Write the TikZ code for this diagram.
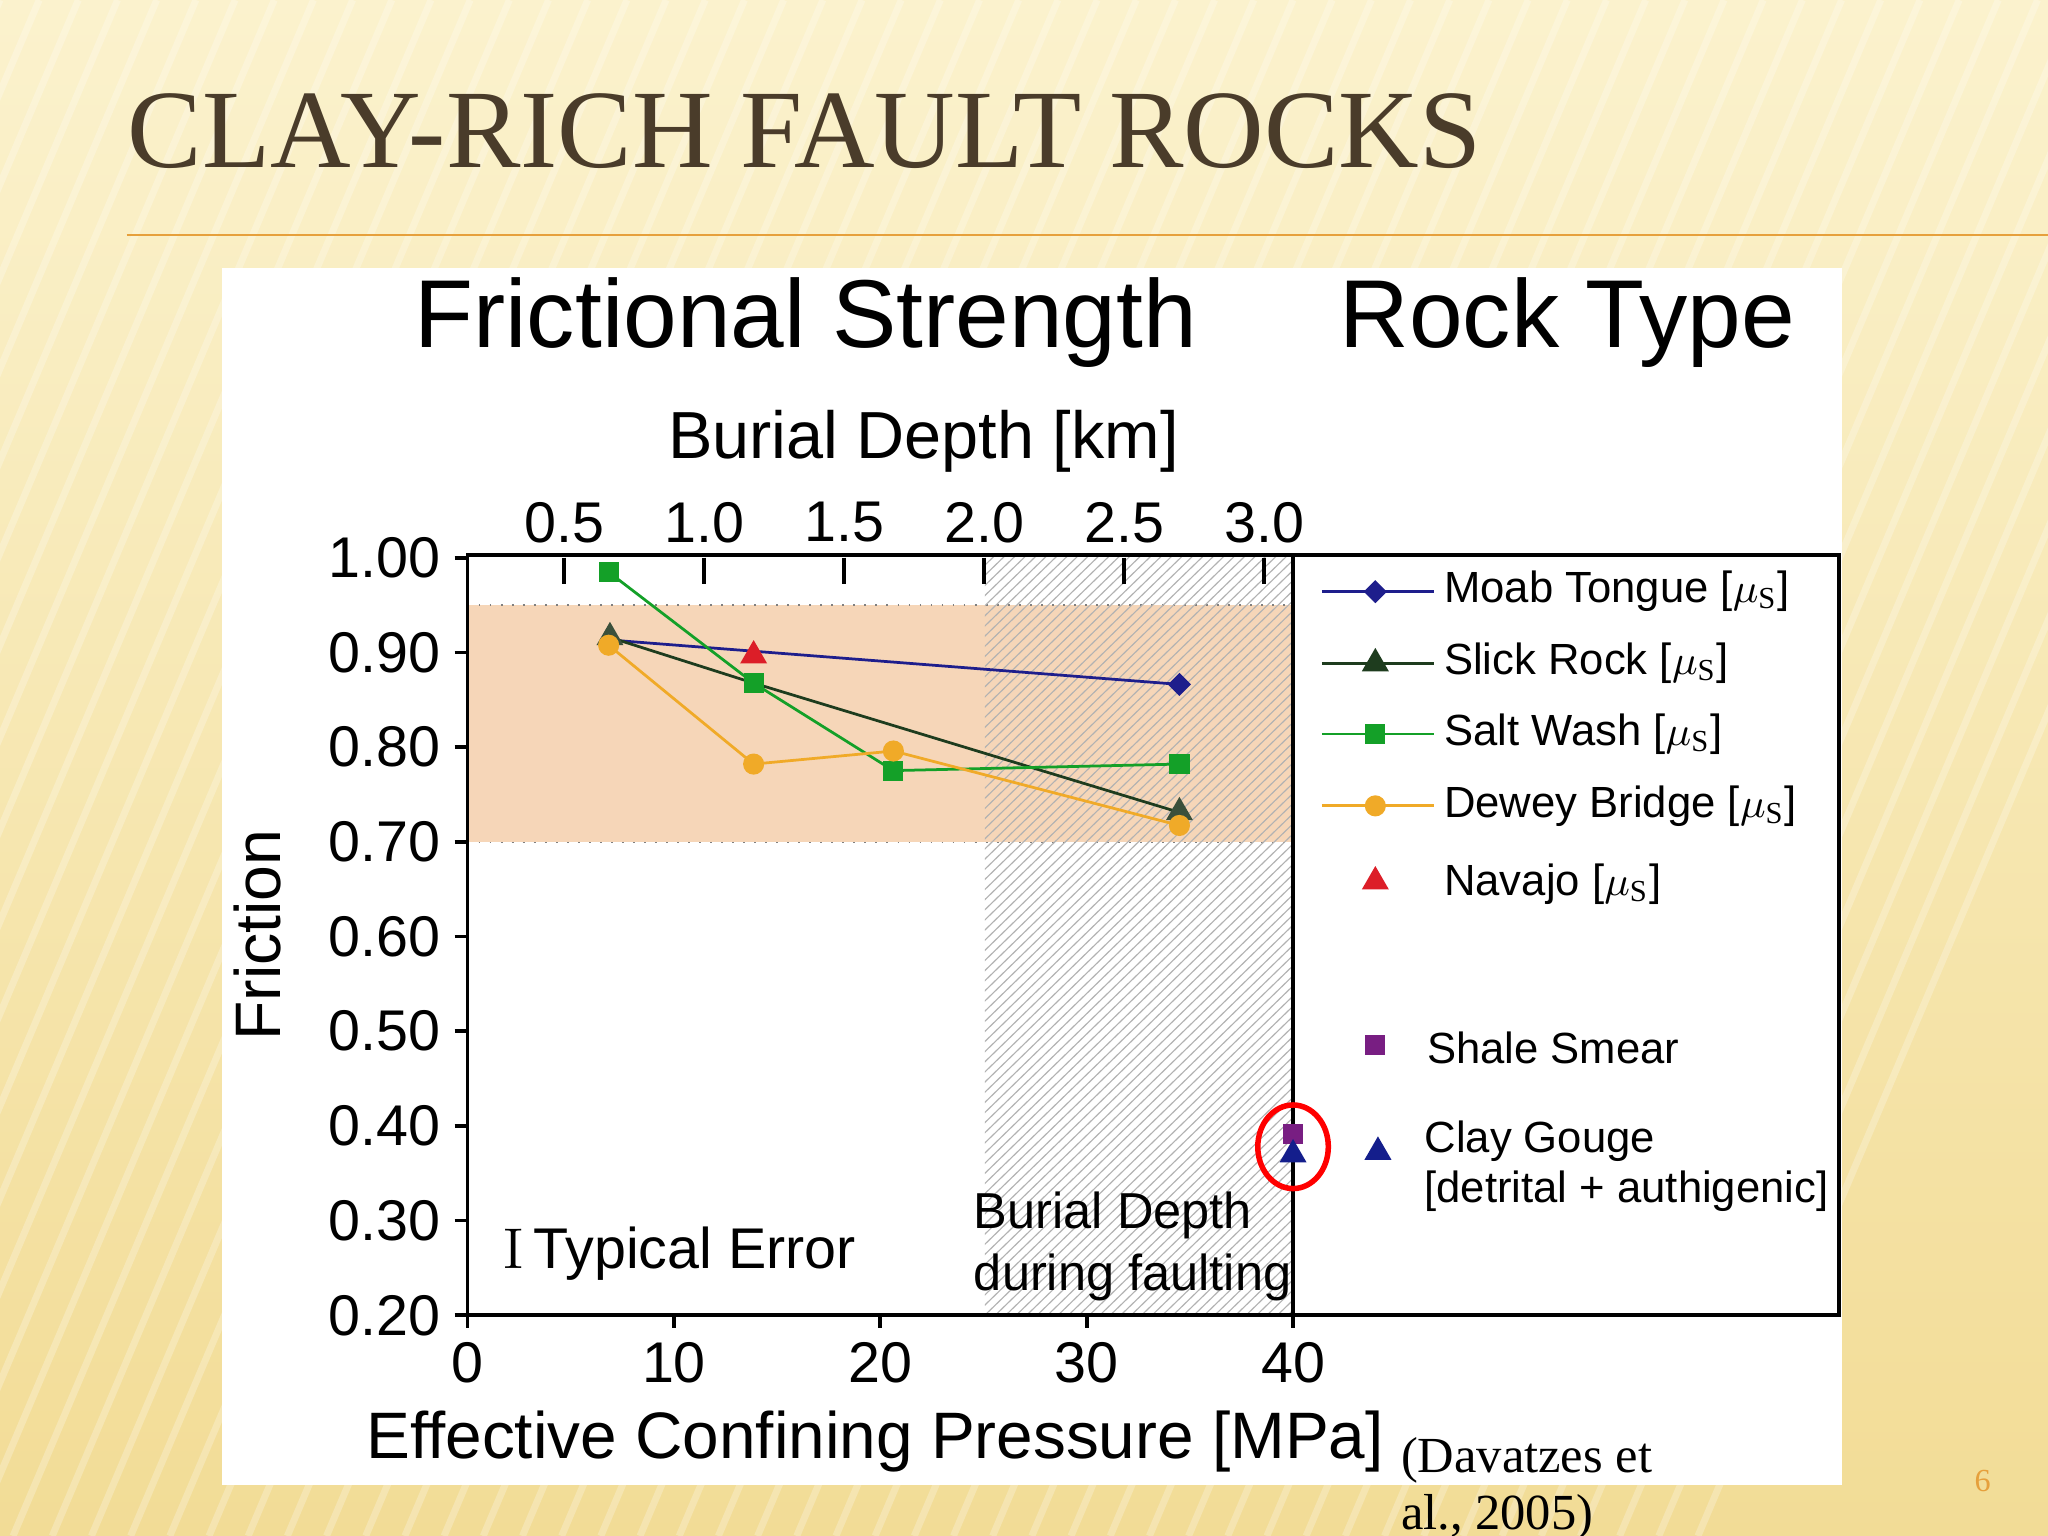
\documentclass[tikz,border=0pt]{standalone}
\usepackage{fontspec}
\setmainfont{Liberation Serif}
\setsansfont{Liberation Sans}
\usetikzlibrary{shapes.geometric}
\definecolor{bgtop}{RGB}{251,242,205}
\definecolor{bgbot}{RGB}{242,220,150}
\definecolor{titlec}{RGB}{74,60,42}
\definecolor{rule}{RGB}{230,160,60}
\definecolor{band}{RGB}{246,214,184}
\definecolor{moab}{RGB}{30,30,140}
\definecolor{slick}{RGB}{30,60,30}
\definecolor{salt}{RGB}{20,160,40}
\definecolor{dewey}{RGB}{240,170,40}
\definecolor{navajo}{RGB}{220,30,40}
\definecolor{shale}{RGB}{120,30,130}
\definecolor{gouge}{RGB}{20,30,140}
\tikzset{
 lbl/.style={font=\sffamily\fontsize{12.5}{12.5}\selectfont,inner sep=0pt},
 leg/.style={font=\sffamily\fontsize{9.5}{11}\selectfont,inner sep=0pt,anchor=west,align=left},
 sq/.style={rectangle,minimum size=4.4pt,inner sep=0pt,fill=#1},
 tri/.style={regular polygon,regular polygon sides=3,minimum size=6.8pt,inner sep=0pt,fill=#1},
 dm/.style={diamond,minimum size=5.2pt,inner sep=0pt,fill=#1},
 ci/.style={circle,minimum size=4.6pt,inner sep=0pt,fill=#1},
}
\begin{document}
\begin{tikzpicture}[x=0.01cm,y=-0.01cm]
\useasboundingbox (0,0) rectangle (1568,1176);
\shade[top color=bgtop,bottom color=bgbot] (0,0) rectangle (1568,1176);
\foreach \i in {0,30,...,1800}{\draw[white,opacity=0.25,line width=1.5pt] (\i,0) -- (\i-500,1176);}
\node[anchor=base west,inner sep=0pt,text=titlec,font=\fontsize{24.3}{24.3}\selectfont] (title) at (97,128) {CLAY-RICH FAULT ROCKS};
\draw[rule,line width=0.6pt] (97,180) -- (1568,180);
\fill[white] (170,205) rectangle (1410,1137);
% band and hatch
\fill[band] (358,463) rectangle (990,645);
\draw[gray,dotted] (358,463) -- (990,463) (358,645) -- (990,645);
\begin{scope}
\clip (754,425) rectangle (990,1007);
\foreach \i in {0,8,...,900}{\draw[gray!60,line width=0.25pt] (754+\i-600,1007) -- (754+\i,425);}
\end{scope}
\draw[line width=0.8pt] (358,425) rectangle (990,1007);
\draw[line width=0.8pt] (990,425) rectangle (1408,1007);
% y ticks
\foreach \v/\t in {0/1.00,1/0.90,2/0.80,3/0.70,4/0.60,5/0.50,6/0.40,7/0.30,8/0.20}{
 \draw[line width=0.8pt] (348,427+72.5*\v) -- (358,427+72.5*\v);
 \node[lbl,anchor=east] (y\v) at (338,427+72.5*\v) {\t};}
\foreach \v in {0,10,20,30,40}{
 \draw[line width=0.8pt] (358+15.8*\v,1007) -- (358+15.8*\v,1017);
 \node[lbl,anchor=north] (x\v) at (358+15.8*\v,1027) {\v};}
\foreach \k/\t in {0/0.5,1/1.0,2/1.5,3/2.0,4/2.5,5/3.0}{
 \draw[line width=0.8pt] (432+107.2*\k,427) -- (432+107.2*\k,447);
 \node[lbl] (d\k) at (432+107.2*\k,400) {\t};}
\node[font=\sffamily\fontsize{21}{21}\selectfont] (fs) at (617,247) {Frictional Strength};
\node[font=\sffamily\fontsize{21}{21}\selectfont] (rt) at (1200,247) {Rock Type};
\node[font=\sffamily\fontsize{14.5}{14.5}\selectfont] (bd) at (707,338) {Burial Depth [km]};
\node[font=\sffamily\fontsize{14}{14}\selectfont,rotate=90] (fr) at (197,716) {Friction};
\node[font=\sffamily\fontsize{14.3}{14.3}\selectfont] (ecp) at (670,1104) {Effective Confining Pressure [MPa]};
\node[lbl,anchor=west] (te) at (385,960) {\fontfamily{lmr}\selectfont I\sffamily\,Typical Error};
\node[lbl,anchor=west,align=left,font=\sffamily\fontsize{11}{13.5}\selectfont] (bdf) at (745,954) {Burial Depth\\during faulting};
% data
\draw[moab,line width=0.6pt] (467,490) -- (903,524);
\draw[slick,line width=0.6pt] (467,488) -- (577,523) -- (903,622);
\draw[salt,line width=0.6pt] (466,438) -- (577,523) -- (684,590) -- (903,585);
\draw[dewey,line width=0.6pt] (466,494) -- (577,585) -- (684,575) -- (903,632);
\node[dm=moab] (m2) at (903,524) {};
\node[tri=slick!70!gray] (s1) at (467,488) {};
\node[tri=slick!70!gray] (s3) at (903,622) {};
\node[sq=salt] (w1) at (466,438) {};
\node[sq=salt] (w2) at (577,523) {};
\node[sq=salt] (w3) at (684,590) {};
\node[sq=salt] (w4) at (903,585) {};
\node[ci=dewey] (e1) at (466,494) {};
\node[ci=dewey] (e2) at (577,585) {};
\node[ci=dewey] (e3) at (684,575) {};
\node[ci=dewey] (e4) at (903,632) {};
\node[tri=navajo] (n1) at (577,502) {};
\node[sq=shale] (sh) at (990,868) {};
\node[tri=gouge] (cg) at (990,884) {};
\draw[red,line width=1.2pt] (990,878) ellipse (27 and 32);
% legend
\foreach \y/\c/\s/\t in {453/moab/dm/Moab Tongue,508/slick/tri/Slick Rock,562/salt/sq/Salt Wash,617/dewey/ci/Dewey Bridge}{
 \draw[\c,line width=0.6pt] (1012,\y) -- (1098,\y);
 \node[\s=\c] at (1053,\y) {};
 \node[leg] at (1105,\y) {\t\ [$\mu_{\mathrm{S}}$]};}
\node[tri=navajo] (ln) at (1053,675) {};
\node[leg] (lnt) at (1105,677) {Navajo [$\mu_{\mathrm{S}}$]};
\node[sq=shale] (ls) at (1053,800) {};
\node[leg] (lst) at (1092,802) {Shale Smear};
\node[tri=gouge] (lg) at (1055,882) {};
\node[leg] (lgt) at (1090,893) {Clay Gouge\\\relax [detrital + authigenic]};
\node[anchor=west,inner sep=0pt,font=\fontsize{11}{12.5}\selectfont,align=left] (cit) at (1072,1140) {(Davatzes et\\al., 2005)};
\node[text=rule,font=\fontsize{7}{7}\selectfont] (pg) at (1518,1134) {6};
\end{tikzpicture}
\end{document}
